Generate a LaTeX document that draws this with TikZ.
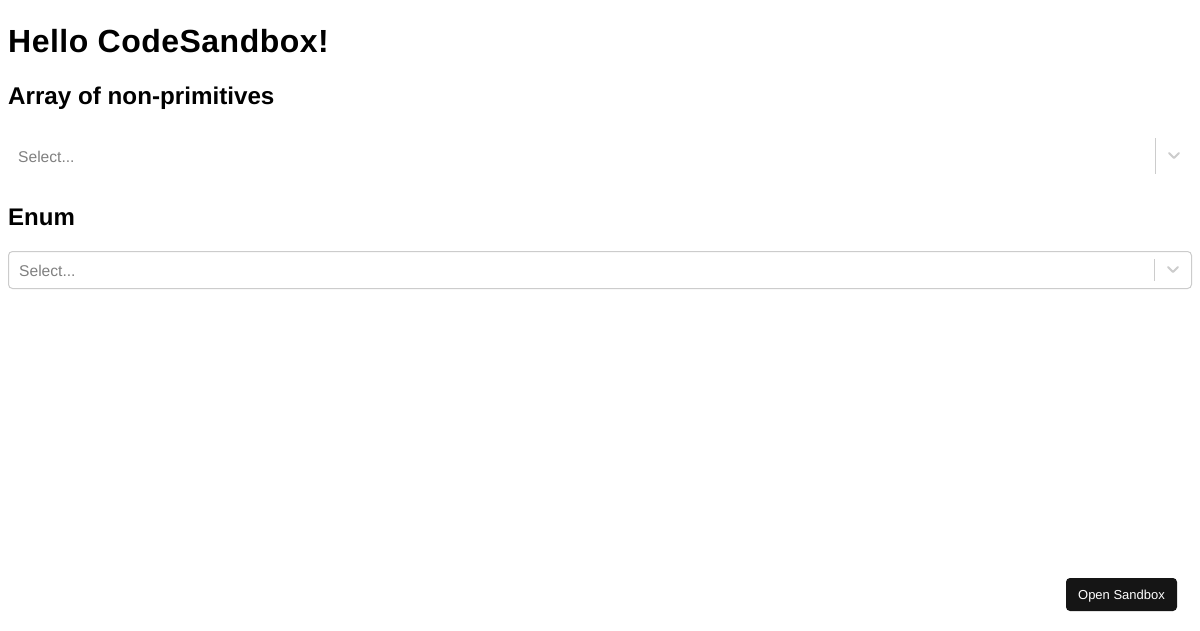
\documentclass[tikz,border=0pt]{standalone}
\usepackage{fontspec}
\setmainfont{Liberation Sans}
\newfontfamily\titlefont[LetterSpace=1.5]{Liberation Sans}
\definecolor{bordergray}{HTML}{CCCCCC}
\definecolor{placeholder}{HTML}{808080}
\definecolor{btnbg}{HTML}{151515}
\begin{document}
\begin{tikzpicture}[x=1pt,y=-1pt,
  heading/.style={anchor=base west,inner sep=0pt,font=\bfseries\fontsize{#1}{#1}\selectfont,text=black},
  ph/.style={anchor=base west,inner sep=0pt,font=\fontsize{15.6}{16}\selectfont,text=placeholder},
  sep/.style={draw=bordergray,line width=1pt},
  chev/.style={draw=bordergray,line width=1.8pt,line cap=round,line join=round},
  selbox/.style={draw=bordergray,line width=1pt,rounded corners=4pt},
  btn/.style={fill=btnbg,rounded corners=4pt,draw=none,text=white,font=\fontsize{13}{13}\selectfont,inner sep=0pt,minimum width=111pt,minimum height=33pt}
]
\useasboundingbox[fill=white] (0,0) rectangle (1200,630);

\node[heading=32,font=\titlefont\bfseries\fontsize{32}{32}\selectfont] (title) at (8,52) {Hello CodeSandbox!};
\node[heading=24.2] (h1) at (8,104) {Array of non-primitives};
\node[heading=24] (h2) at (8,225) {Enum};

% first select (no visible border)
\node[ph] (ph1) at (18,162) {Select...};
\coordinate (s1a) at (1155.5,138);
\coordinate (s1b) at (1155.5,174);
\draw[sep] (s1a) -- (s1b);
\coordinate (c1a) at (1169,153);
\coordinate (c1m) at (1174,158);
\coordinate (c1b) at (1179,153);
\draw[chev] (c1a) -- (c1m) -- (c1b);

% second select
\coordinate (b2a) at (8.5,251.5);
\coordinate (b2b) at (1191.5,288.5);
\draw[selbox] (b2a) rectangle (b2b);
\node[ph] (ph2) at (19,276) {Select...};
\coordinate (s2a) at (1154.5,259);
\coordinate (s2b) at (1154.5,281);
\draw[sep] (s2a) -- (s2b);
\coordinate (c2a) at (1168,267);
\coordinate (c2m) at (1173,272);
\coordinate (c2b) at (1178,267);
\draw[chev] (c2a) -- (c2m) -- (c2b);

% button
\node[btn] (open) at (1121.5,594.5) {\raisebox{-4.5pt}[0pt][0pt]{Open Sandbox}};
\end{tikzpicture}
\end{document}
